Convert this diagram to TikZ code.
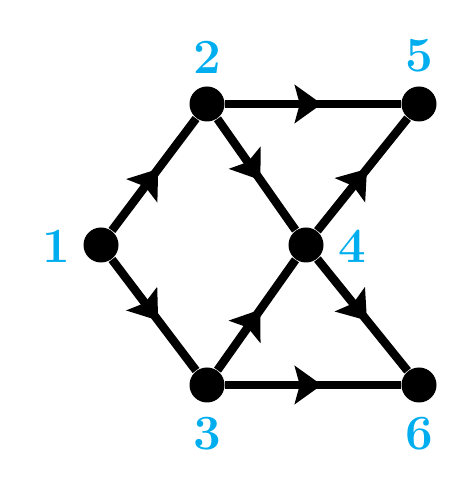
\documentclass[tikz,border=0pt]{standalone}
\usetikzlibrary{decorations.markings,arrows.meta}
\definecolor{labelcyan}{RGB}{0,174,239}
\begin{document}
\begin{tikzpicture}[
    vertex/.style={circle,fill=black,inner sep=0pt,minimum size=0.35cm},
    num/.style={text=labelcyan,inner sep=0pt,font=\fontsize{14}{16}\selectfont\bfseries},
    edge/.style={line width=0.085cm,postaction={decorate},
      decoration={markings,mark=at position 0.55 with {\arrow{Stealth[length=0.27cm,width=0.38cm,inset=0.05cm]}}}}]
    \useasboundingbox (0,0) rectangle (4.74,4.91);
    \node[vertex] (v1) at (1.01,2.46) {};
    \node[vertex] (v2) at (2.07,3.87) {};
    \node[vertex] (v3) at (2.07,1.06) {};
    \node[vertex] (v4) at (3.06,2.46) {};
    \node[vertex] (v5) at (4.19,3.87) {};
    \node[vertex] (v6) at (4.19,1.06) {};
    \node[num] (l1) at (0.56,2.45) {1};
    \node[num] (l2) at (2.07,4.34) {2};
    \node[num] (l3) at (2.07,0.57) {3};
    \node[num] (l4) at (3.52,2.45) {4};
    \node[num] (l5) at (4.19,4.35) {5};
    \node[num] (l6) at (4.19,0.57) {6};
    \draw[edge] (v1) -- (v2);
    \draw[edge] (v1) -- (v3);
    \draw[edge] (v2) -- (v5);
    \draw[edge] (v2) -- (v4);
    \draw[edge] (v3) -- (v4);
    \draw[edge] (v3) -- (v6);
    \draw[edge] (v4) -- (v5);
    \draw[edge] (v4) -- (v6);
\end{tikzpicture}
\end{document}
